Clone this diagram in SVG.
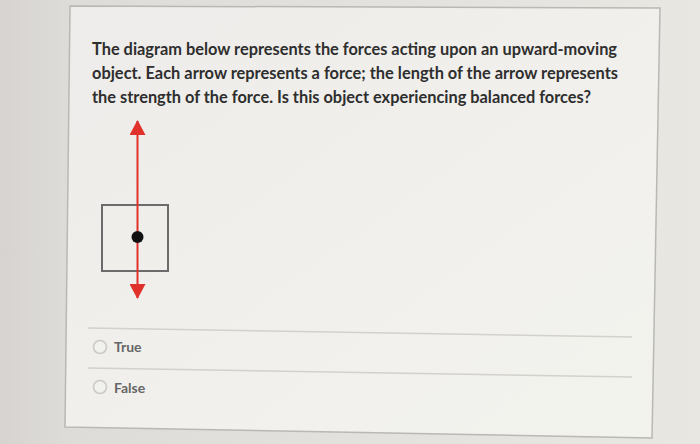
<svg xmlns="http://www.w3.org/2000/svg" width="700" height="444" viewBox="0 0 700 444">
<defs>
<linearGradient id="bg" x1="0" y1="0" x2="1" y2="0">
<stop offset="0" stop-color="#d6d3d1"/>
<stop offset="0.1" stop-color="#dedcd9"/>
<stop offset="1" stop-color="#e8e7e2"/>
</linearGradient>
<linearGradient id="card" x1="0" y1="0" x2="1" y2="1">
<stop offset="0" stop-color="#eeecea"/>
<stop offset="1" stop-color="#f3f3ee"/>
</linearGradient>
<marker id="ah" viewBox="0 0 15 16" refX="14" refY="8" markerWidth="15" markerHeight="16" orient="auto" markerUnits="userSpaceOnUse">
<path d="M0,0 L15,8 L0,16 Z" fill="#e0312a"/>
</marker>
<style>
.q{font-family:Lato,"Liberation Sans",sans-serif;font-weight:bold;font-size:16.5px;fill:#2e2e2e}
.opt{font-family:Lato,"Liberation Sans",sans-serif;font-weight:bold;font-size:14px;fill:#666}
.sep{stroke:#d2d1cc;stroke-width:1.5;fill:none}
.radio{fill:#f1f1ee;stroke:#c9c9c6;stroke-width:1.5}
</style>
</defs>
<rect width="700" height="444" fill="url(#bg)"/>
<polygon points="70,6 660,8 652,438 65,427" fill="url(#card)" stroke="#b9b8b5" stroke-width="1.5"/>
<g id="question">
<text class="q" x="92" y="55" textLength="525" lengthAdjust="spacingAndGlyphs">The diagram below represents the forces acting upon an upward-moving</text>
<text class="q" x="92" y="79" textLength="526" lengthAdjust="spacingAndGlyphs">object. Each arrow represents a force; the length of the arrow represents</text>
<text class="q" x="92" y="103" textLength="499" lengthAdjust="spacingAndGlyphs">the strength of the force. Is this  object experiencing balanced forces?</text>
</g>
<g id="box">
<rect x="102" y="205" width="66" height="66" fill="none" stroke="#6b6b6b" stroke-width="2"/>
</g>
<g id="connectors">
<line x1="137.5" y1="237" x2="137.5" y2="121" stroke="#e0312a" stroke-width="2" marker-end="url(#ah)"/>
<line x1="137.5" y1="237" x2="137.5" y2="298" stroke="#e0312a" stroke-width="2" marker-end="url(#ah)"/>
</g>
<g id="dot">
<circle cx="137.5" cy="237" r="6" fill="#111"/>
</g>
<g id="options">
<line class="sep" x1="88" y1="328" x2="632" y2="337"/>
<circle class="radio" cx="100" cy="347" r="6.5"/>
<text class="opt" x="114" y="352">True</text>
<line class="sep" x1="88" y1="368" x2="632" y2="377"/>
<circle class="radio" cx="100" cy="387" r="6.5"/>
<text class="opt" x="114" y="393">False</text>
</g>
</svg>
